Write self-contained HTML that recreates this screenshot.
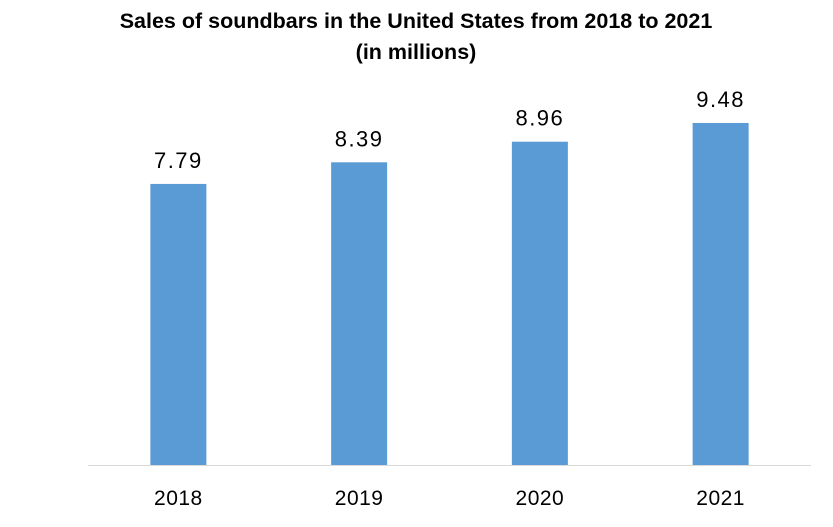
<!DOCTYPE html>
<html><head><meta charset="utf-8"><style>
body{margin:0;background:#fff;}
svg{display:block;font-family:"Liberation Sans",sans-serif;}
</style></head><body>
<svg id="chart" width="833" height="527">
<text x="416" y="28" text-anchor="middle" font-size="21.5" font-weight="bold" fill="#000">Sales of soundbars in the United States from 2018 to 2021</text>
<text x="416" y="59" text-anchor="middle" font-size="21.5" font-weight="bold" fill="#000">(in millions)</text>
<line x1="88" y1="465.5" x2="811" y2="465.5" stroke="#d9d9d9" stroke-width="1"/>
<g id="bars"></g>
</svg>
<script>
const categories = ["2018","2019","2020","2021"];
const values = [7.79, 8.39, 8.96, 9.48];
const valueLabels = ["7.79","8.39","8.96","9.48"];
const plotL = 88, plotR = 811, baseY = 465, pxPerUnit = 36.08, barW = 56;
const band = (plotR - plotL) / categories.length;
function xCenter(i){ return plotL + band * (i + 0.5); }
function yScale(v){ return baseY - v * pxPerUnit; }
const g = document.getElementById('bars');
const NS = "http://www.w3.org/2000/svg";
categories.forEach((c, i) => {
  const cx = xCenter(i), top = yScale(values[i]);
  const r = document.createElementNS(NS, 'rect');
  r.setAttribute('x', cx - barW/2); r.setAttribute('y', top);
  r.setAttribute('width', barW); r.setAttribute('height', baseY - top);
  r.setAttribute('fill', '#5b9bd5');
  
  
  g.appendChild(r);
  const t = document.createElementNS(NS, 'text');
  t.setAttribute('x', cx); t.setAttribute('y', top - 16);
  t.setAttribute('text-anchor', 'middle'); t.setAttribute('font-size', '22'); t.setAttribute('letter-spacing', '1.5'); t.setAttribute('fill', '#000');
  t.textContent = valueLabels[i];
  
  
  g.appendChild(t);
  const xl = document.createElementNS(NS, 'text');
  xl.setAttribute('x', cx); xl.setAttribute('y', 505);
  xl.setAttribute('text-anchor', 'middle'); xl.setAttribute('font-size', '21'); xl.setAttribute('letter-spacing', '0.5'); xl.setAttribute('fill', '#000');
  xl.textContent = c;
  
  
  g.appendChild(xl);
});
</script>
</body></html>
